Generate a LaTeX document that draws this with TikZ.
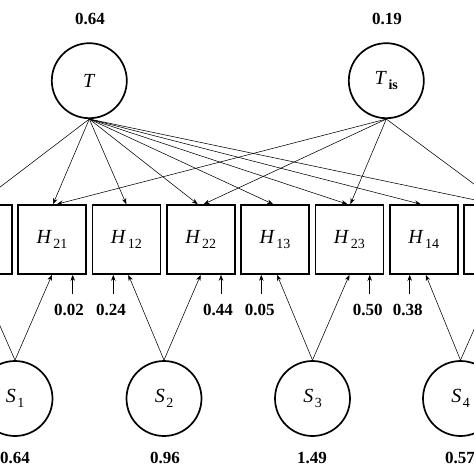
\documentclass[tikz,border=0pt]{standalone}
\usepackage{fontspec}
\setmainfont{Liberation Serif}
\usetikzlibrary{arrows.meta}
\newcommand{\varsub}[2]{\textit{#1}\hspace{1.5pt}\raisebox{-5.5pt}{\fontsize{14}{14}\selectfont #2}}

\begin{document}
\begin{tikzpicture}[x=1pt, y=-1pt,
	latente/.style={circle, draw, line width=1.7pt, minimum size=75pt, inner sep=0pt, font=\fontsize{20}{20}\selectfont},
	indicador/.style={rectangle, draw, line width=1.7pt, minimum width=68pt, minimum height=69pt, inner sep=0pt, font=\fontsize{20}{20}\selectfont},
	num/.style={inner sep=0pt, font=\fontsize{17}{17}\selectfont\bfseries},
	flecha/.style={-{Stealth[length=6pt, width=4.5pt]}, line width=0.55pt}
	]

	%Marco de la figura
		\useasboundingbox (0,0) rectangle (474,474);
		\clip (0,0) rectangle (474,474);
		\fill[white] (0,0) rectangle (474,474);

	%Variables latentes de rasgo
		\node[latente] (T) at (89.3, 80.7) {\textit{T}};
		\node[latente] (Tis) at (386.3, 80.7) {\varsub{T}{\textbf{is}}};
		\node[num] (vT) at (90, 19) {0.64};
		\node[num] (vTis) at (387, 19) {0.19};

	%Indicadores (los de los bordes quedan cortados)
		\node[indicador] (H11) at (-22.35, 239.5) {};
		\node[indicador] (H21) at (52, 239.5) {\varsub{H}{21}};
		\node[indicador] (H12) at (126.35, 239.5) {\varsub{H}{12}};
		\node[indicador] (H22) at (200.7, 239.5) {\varsub{H}{22}};
		\node[indicador] (H13) at (275.05, 239.5) {\varsub{H}{13}};
		\node[indicador] (H23) at (349.4, 239.5) {\varsub{H}{23}};
		\node[indicador] (H14) at (423.75, 239.5) {\varsub{H}{14}};
		\node[indicador] (H24) at (498.1, 239.5) {};

	%Variables latentes de situacion
		\node[latente] (S1) at (15, 398.5) {\varsub{S}{1}};
		\node[latente] (S2) at (164, 398.5) {\varsub{S}{2}};
		\node[latente] (S3) at (312.5, 398.5) {\varsub{S}{3}};
		\node[latente] (S4) at (460.5, 398.5) {\varsub{S}{4}};
		\node[num] (vS1) at (15, 457.5) {0.64};
		\node[num] (vS2) at (165, 457.5) {0.96};
		\node[num] (vS3) at (312, 457.5) {1.49};
		\node[num] (vS4) at (460, 457.5) {0.57};

	%Cargas de T con todos los indicadores
		\draw[flecha] (T.south) -- (H11.north);
		\draw[flecha] (T.south) -- ([xshift=1pt]H21.north);
		\draw[flecha] (T.south) -- (H12.north);
		\draw[flecha] (T.south) -- ([xshift=-3pt]H22.north);
		\draw[flecha] (T.south) -- ([xshift=-2pt]H13.north);
		\draw[flecha] (T.south) -- ([xshift=-2pt]H23.north);
		\draw[flecha] (T.south) -- ([xshift=-3pt]H14.north);
		\draw[flecha] (T.south) -- ([xshift=-3pt]H24.north);
	%Cargas de T_is
		\draw[flecha] (Tis.south) -- ([xshift=5pt]H21.north);
		\draw[flecha] (Tis.south) -- ([xshift=3pt]H22.north);
		\draw[flecha] (Tis.south) -- ([xshift=1pt]H23.north);
		\draw[flecha] (Tis.south) -- ([xshift=3pt]H24.north);

	%Cargas de las situaciones
		\draw[flecha] (S1.north) -- (H11.south);
		\draw[flecha] (S1.north) -- (H21.south);
		\draw[flecha] (S2.north) -- ([xshift=2pt]H12.south);
		\draw[flecha] (S2.north) -- (H22.south);
		\draw[flecha] (S3.north) -- ([xshift=2pt]H13.south);
		\draw[flecha] (S3.north) -- (H23.south);
		\draw[flecha] (S4.north) -- ([xshift=2pt]H14.south);
		\draw[flecha] (S4.north) -- (H24.south);

	%Errores de los indicadores
		\coordinate (e21) at (72.7, 294);
		\coordinate (e12) at (113.3, 294);
		\coordinate (e22) at (221, 294);
		\coordinate (e13) at (261.3, 294);
		\coordinate (e23) at (369.7, 294);
		\coordinate (e14) at (409.7, 294);
		\draw[flecha] (e21) -- (e21 |- H21.south);
		\draw[flecha] (e12) -- (e12 |- H12.south);
		\draw[flecha] (e22) -- (e22 |- H22.south);
		\draw[flecha] (e13) -- (e13 |- H13.south);
		\draw[flecha] (e23) -- (e23 |- H23.south);
		\draw[flecha] (e14) -- (e14 |- H14.south);
		\node[num] (n21) at (69, 310) {0.02};
		\node[num] (n12) at (111, 310) {0.24};
		\node[num] (n22) at (218, 310) {0.44};
		\node[num] (n13) at (259.7, 310) {0.05};
		\node[num] (n23) at (367.7, 310) {0.50};
		\node[num] (n14) at (407.7, 310) {0.38};
	\end{tikzpicture}
\end{document}
